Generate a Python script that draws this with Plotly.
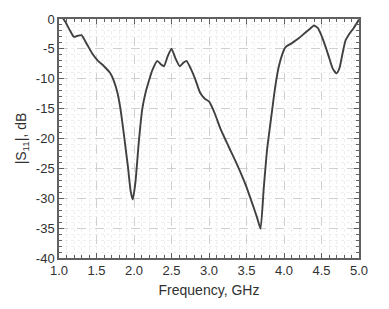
import plotly.graph_objects as go

freq = [1.0, 1.05, 1.09, 1.15, 1.2, 1.25, 1.3, 1.38, 1.45, 1.52, 1.6, 1.68, 1.73, 1.78, 1.82, 1.86, 1.89, 1.92, 1.955, 1.984,
        2.02, 2.064, 2.11, 2.153, 2.2, 2.25, 2.31, 2.36, 2.40, 2.45, 2.50, 2.55, 2.61, 2.66, 2.70, 2.76, 2.82, 2.88, 2.94,
        3.0, 3.08, 3.153, 3.26, 3.376, 3.49, 3.597, 3.64, 3.687, 3.73, 3.776, 3.83, 3.88, 3.93, 3.98, 4.02, 4.11, 4.2,
        4.29, 4.35, 4.40, 4.45, 4.49, 4.55, 4.60, 4.65, 4.70, 4.74, 4.78, 4.82, 4.87, 4.93, 5.0]
s11 = [1.2, 0.2, -0.6, -2.0, -3.0, -2.8, -2.7, -4.4, -5.9, -7.0, -7.9, -9.0, -10.3, -12.4, -15.1, -18.8, -21.8, -24.8, -28.8, -30.2,
       -27.2, -20.6, -15.1, -12.4, -10.3, -8.4, -7.0, -7.6, -7.9, -6.2, -4.95, -6.5, -7.9, -7.3, -7.0, -8.4, -10.2, -12.3, -13.3,
       -13.8, -15.9, -18.4, -21.3, -24.4, -27.8, -31.6, -33.2, -35.1, -28.3, -21.7, -16.4, -11.6, -8.0, -5.8, -4.7, -4.0, -3.2,
       -2.2, -1.6, -1.1, -1.5, -2.5, -4.5, -6.4, -8.3, -9.1, -8.2, -5.8, -3.6, -2.5, -1.5, -0.1]

xticks = [1.0, 1.5, 2.0, 2.5, 3.0, 3.5, 4.0, 4.5, 5.0]
yticks = [0, -5, -10, -15, -20, -25, -30, -35, -40]

FONT = "Liberation Sans, Arial, sans-serif"

fig = go.Figure()
fig.add_trace(go.Scatter(x=freq, y=s11, mode="lines",
                         line=dict(color="#404040", width=1.9, shape="spline", smoothing=0.5),
                         showlegend=False))

axis_common = dict(
    showline=True, linecolor="#606060", linewidth=1.5, mirror="ticks",
    ticks="inside", ticklen=5, tickwidth=1, tickcolor="#606060",
    showgrid=True, gridcolor="#d0d0d0", griddash="dash", gridwidth=1,
    zeroline=False,
    tickfont=dict(family=FONT, size=13, color="#303030"),
)

fig.update_xaxes(range=[1.0, 5.0], tickvals=xticks, ticktext=[f"{v:.1f}" for v in xticks],
                 minor=dict(dtick=0.1, ticks="inside", ticklen=3, tickcolor="#606060", showgrid=True,
                            gridcolor="#eeeeee", griddash="dot", gridwidth=1),
                 title=dict(text="Frequency, GHz", standoff=8,
                            font=dict(family=FONT, size=14, color="#303030")),
                 **axis_common)
fig.update_yaxes(range=[-40, 0], tickvals=yticks, ticktext=[str(v) for v in yticks],
                 minor=dict(dtick=1, ticks="inside", ticklen=3, tickcolor="#606060", showgrid=True,
                            gridcolor="#eeeeee", griddash="dot", gridwidth=1),
                 title=dict(text="|S<sub>11</sub>|, dB", standoff=6,
                            font=dict(family=FONT, size=14, color="#303030")),
                 **axis_common)

fig.update_layout(width=389, height=309, margin=dict(l=59, r=30, t=15, b=51),
                  plot_bgcolor="white", paper_bgcolor="white")

fig.write_html("out.html")
